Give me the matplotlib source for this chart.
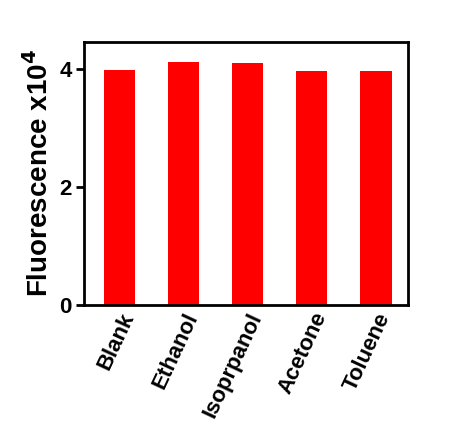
import matplotlib
matplotlib.use("Agg")
import matplotlib.pyplot as plt

categories = ["Blank", "Ethanol", "Isoprpanol", "Acetone", "Toluene"]
values = [3.98, 4.12, 4.10, 3.97, 3.97]
yticks = [0, 2, 4]

plt.rcParams['font.family'] = ['Liberation Sans', 'DejaVu Sans']
plt.rcParams['font.weight'] = 'bold'
fig = plt.figure(figsize=(4.74, 4.48), dpi=100)
ax = fig.add_axes([84/474, 1-305/448, 324/474, 263/448])
ax.bar(range(len(categories)), values, width=0.49, color='#ff0000')
ax.set_xlim(-0.55, 4.5)
ax.set_ylim(0, 4.46)
ax.set_yticks(yticks)
ax.set_yticklabels([str(t) for t in yticks], fontsize=16, fontweight='bold')
ax.set_xticks(range(len(categories)))
ax.set_xticklabels(categories, rotation=65, ha='right', rotation_mode='anchor', fontsize=16, fontweight='bold')
ax.set_ylabel(r"Fluorescence x10$^\mathbf{4}$", fontsize=20, fontweight='bold', labelpad=4)
for s in ax.spines.values():
    s.set_linewidth(2)
ax.tick_params(axis='y', width=2, length=6, pad=3)
ax.tick_params(axis='x', width=0, length=0, pad=3)
fig.savefig("out.png", dpi=100)
